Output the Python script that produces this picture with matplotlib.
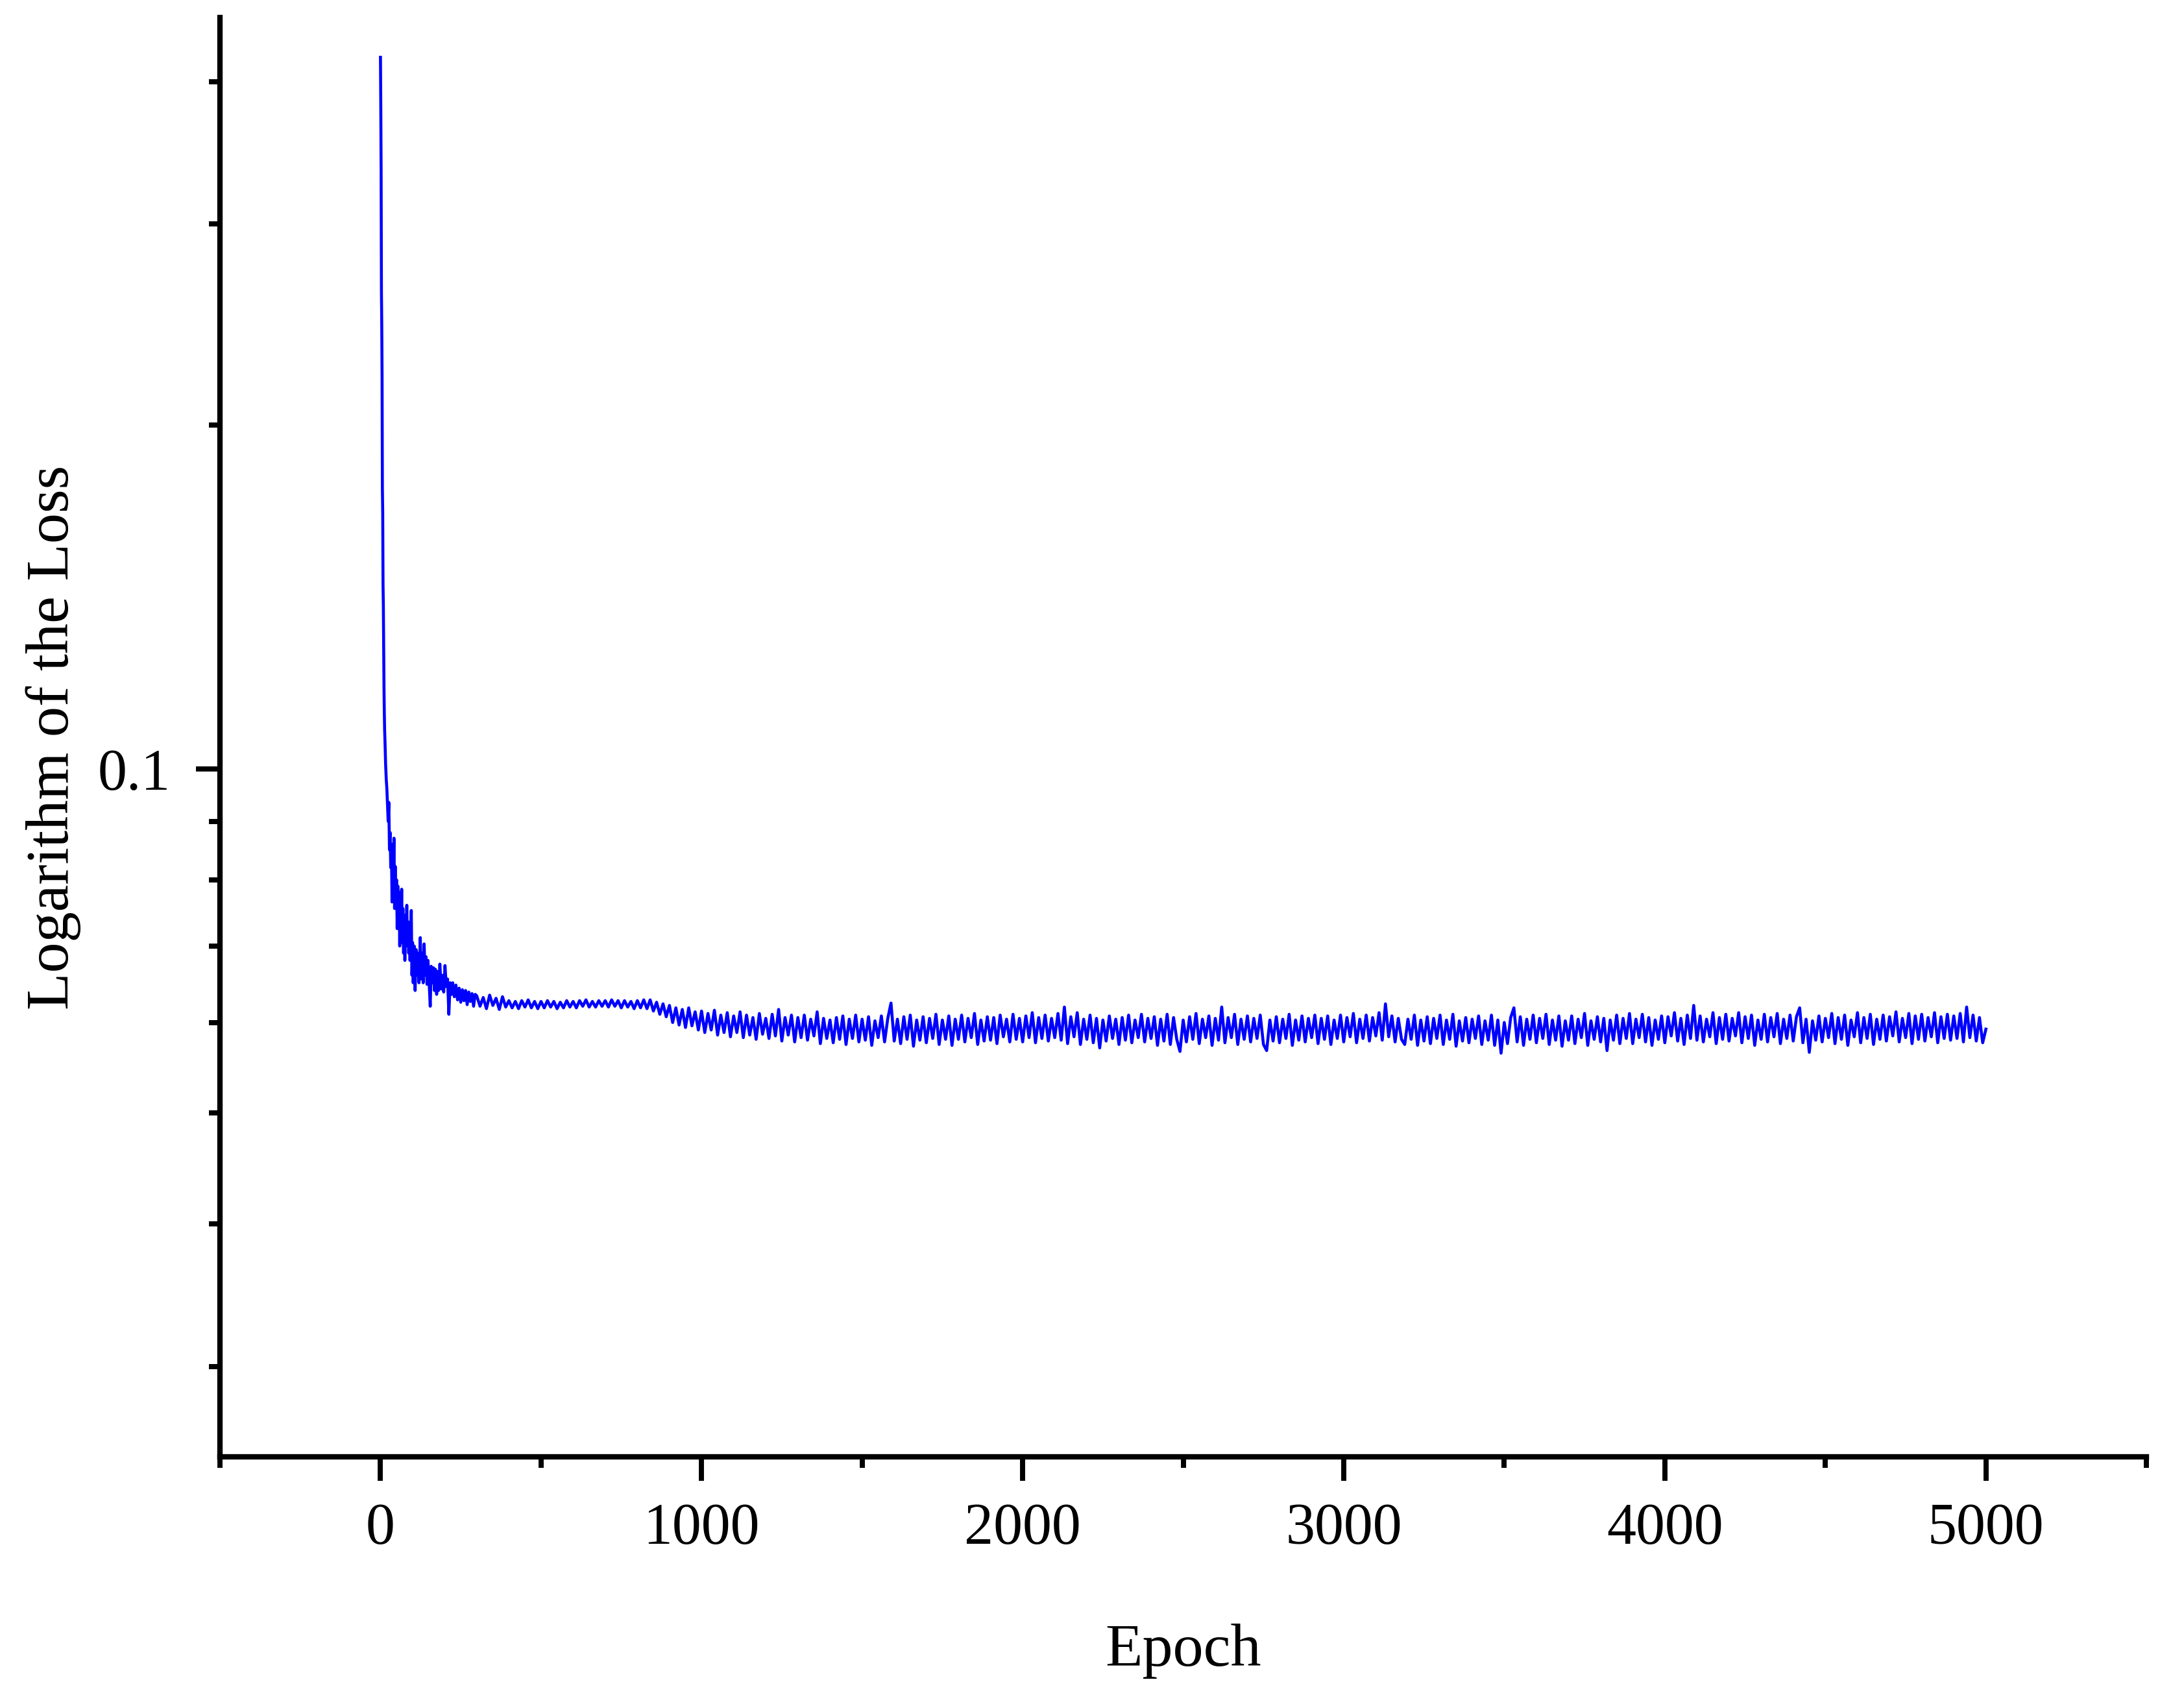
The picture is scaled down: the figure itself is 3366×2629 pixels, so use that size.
import numpy as np
import matplotlib
matplotlib.use("Agg")
import matplotlib.pyplot as plt
from matplotlib import ticker

# ---- data ----
# dense part of the run (fast drop + noisy knee)
head_epochs = [0, 1, 2, 3, 4, 5, 6, 7, 8, 9, 10, 11, 12, 13, 14, 16, 18, 20, 22, 24,
               26, 28, 30, 32, 34, 36, 38, 40, 42, 44, 46, 48, 50, 52, 54, 56, 58, 60,
               62, 64, 66, 68, 70, 72, 74, 76, 78, 80, 82, 84, 86, 88, 90, 92, 94, 96,
               98, 100, 102, 105, 108, 111, 114, 117, 120, 124, 127, 130, 133, 136, 139,
               142, 145, 148, 151, 155, 158, 161, 165, 168, 171, 175, 178, 181, 185, 189,
               193, 197, 201, 205, 209, 213, 217, 221, 225, 230, 235, 240, 245, 250, 255,
               260, 265, 270, 275, 280, 285, 290, 295]
head_loss = [0.420, 0.380, 0.335, 0.262, 0.245, 0.221, 0.176, 0.168, 0.145, 0.139,
             0.128, 0.118, 0.112, 0.108, 0.106, 0.101, 0.098, 0.096, 0.093, 0.090,
             0.0935, 0.0850, 0.0880, 0.0820, 0.0860, 0.0765, 0.0845, 0.0780, 0.0870, 0.0755,
             0.0822, 0.0760, 0.0800, 0.0725, 0.0790, 0.0740, 0.0775, 0.0700, 0.0780, 0.0720,
             0.0785, 0.0705, 0.0755, 0.0690, 0.0745, 0.0680, 0.0725, 0.0700, 0.0760, 0.0705,
             0.0735, 0.0690, 0.0720, 0.0680, 0.0710, 0.0752, 0.0660, 0.0705, 0.0650, 0.0700,
             0.0640, 0.0695, 0.0660, 0.0690, 0.0650, 0.0712, 0.0655, 0.0690, 0.0650, 0.0703,
             0.0660, 0.0685, 0.0648, 0.0680, 0.0655, 0.0620, 0.0672, 0.0650, 0.0670, 0.0640,
             0.0668, 0.0635, 0.0665, 0.0640, 0.0675, 0.0642, 0.0660, 0.0638, 0.0673, 0.0645,
             0.0655, 0.0610, 0.0650, 0.0635, 0.0650, 0.0632, 0.0647, 0.0628, 0.0643, 0.0625,
             0.0641, 0.0627, 0.0640, 0.0622, 0.0638, 0.0626, 0.0636, 0.0620, 0.0635]

# rest of the run, one value every 10 epochs (300 ... 5000)
tail_epochs = np.arange(300, 5001, 10)
tail_loss = [
    0.0633, 0.0620, 0.0631, 0.0617, 0.0634, 0.0621, 0.0630, 0.0616, 0.0632, 0.0619,
    0.0627, 0.0618, 0.0626, 0.0617, 0.0627, 0.0619, 0.0628, 0.0618, 0.0626, 0.0617,
    0.0626, 0.0618, 0.0627, 0.0619, 0.0626, 0.0617, 0.0625, 0.0618, 0.0627, 0.0619,
    0.0626, 0.0618, 0.0627, 0.0620, 0.0628, 0.0619, 0.0626, 0.0619, 0.0627, 0.0620,
    0.0627, 0.0619, 0.0628, 0.0620, 0.0627, 0.0618, 0.0627, 0.0619, 0.0626, 0.0617,
    0.0627, 0.0618, 0.0628, 0.0617, 0.0628, 0.0614, 0.0625, 0.0610, 0.0623, 0.0607,
    0.0621, 0.0600, 0.0618, 0.0597, 0.0616, 0.0594, 0.0618, 0.0596, 0.0613, 0.0591,
    0.0614, 0.0588, 0.0611, 0.0591, 0.0615, 0.0585, 0.0609, 0.0588, 0.0612, 0.0583,
    0.0608, 0.0588, 0.0613, 0.0582, 0.0609, 0.0585, 0.0606, 0.0580, 0.0611, 0.0586,
    0.0605, 0.0581, 0.0610, 0.0584, 0.0616, 0.0578, 0.0606, 0.0585, 0.0609, 0.0577,
    0.0606, 0.0582, 0.0609, 0.0579, 0.0604, 0.0584, 0.0613, 0.0575, 0.0605, 0.0581,
    0.0603, 0.0576, 0.0606, 0.0580, 0.0608, 0.0574, 0.0604, 0.0581, 0.0609, 0.0577,
    0.0604, 0.0579, 0.0607, 0.0573, 0.0602, 0.0582, 0.0608, 0.0577, 0.0605, 0.0624,
    0.0578, 0.0604, 0.0575, 0.0607, 0.0580, 0.0609, 0.0572, 0.0603, 0.0579, 0.0607,
    0.0576, 0.0605, 0.0581, 0.0610, 0.0574, 0.0603, 0.0580, 0.0608, 0.0573, 0.0604,
    0.0580, 0.0609, 0.0577, 0.0605, 0.0582, 0.0611, 0.0574, 0.0603, 0.0578, 0.0607,
    0.0579, 0.0606, 0.0575, 0.0609, 0.0583, 0.0604, 0.0577, 0.0610, 0.0580, 0.0605,
    0.0577, 0.0608, 0.0582, 0.0612, 0.0576, 0.0606, 0.0581, 0.0609, 0.0578, 0.0605,
    0.0582, 0.0611, 0.0579, 0.0619, 0.0575, 0.0607, 0.0583, 0.0612, 0.0574, 0.0604,
    0.0580, 0.0609, 0.0576, 0.0605, 0.0570, 0.0603, 0.0578, 0.0608, 0.0581, 0.0604,
    0.0574, 0.0606, 0.0579, 0.0609, 0.0576, 0.0603, 0.0582, 0.0610, 0.0577, 0.0605,
    0.0581, 0.0607, 0.0573, 0.0604, 0.0578, 0.0610, 0.0574, 0.0606, 0.0580, 0.0566,
    0.0603, 0.0577, 0.0607, 0.0580, 0.0611, 0.0575, 0.0604, 0.0582, 0.0608, 0.0573,
    0.0605, 0.0579, 0.0619, 0.0576, 0.0606, 0.0582, 0.0610, 0.0574, 0.0604, 0.0580,
    0.0608, 0.0577, 0.0605, 0.0581, 0.0609, 0.0574, 0.0567, 0.0603, 0.0578, 0.0607,
    0.0576, 0.0604, 0.0581, 0.0610, 0.0573, 0.0603, 0.0579, 0.0608, 0.0577, 0.0605,
    0.0582, 0.0609, 0.0575, 0.0605, 0.0580, 0.0608, 0.0574, 0.0603, 0.0581, 0.0609,
    0.0577, 0.0606, 0.0583, 0.0611, 0.0576, 0.0604, 0.0581, 0.0609, 0.0578, 0.0606,
    0.0584, 0.0612, 0.0579, 0.0623, 0.0583, 0.0608, 0.0577, 0.0605, 0.0580, 0.0574,
    0.0604, 0.0580, 0.0609, 0.0573, 0.0603, 0.0578, 0.0607, 0.0575, 0.0605, 0.0581,
    0.0609, 0.0574, 0.0603, 0.0580, 0.0610, 0.0572, 0.0602, 0.0578, 0.0606, 0.0576,
    0.0604, 0.0581, 0.0608, 0.0574, 0.0602, 0.0579, 0.0609, 0.0573, 0.0603, 0.0564,
    0.0600, 0.0575, 0.0606, 0.0618, 0.0577, 0.0607, 0.0573, 0.0604, 0.0580, 0.0609,
    0.0576, 0.0605, 0.0581, 0.0610, 0.0574, 0.0603, 0.0579, 0.0608, 0.0572, 0.0602,
    0.0579, 0.0608, 0.0575, 0.0604, 0.0582, 0.0611, 0.0573, 0.0602, 0.0580, 0.0607,
    0.0577, 0.0605, 0.0567, 0.0603, 0.0579, 0.0609, 0.0575, 0.0605, 0.0581, 0.0611,
    0.0575, 0.0604, 0.0582, 0.0610, 0.0577, 0.0606, 0.0573, 0.0603, 0.0580, 0.0608,
    0.0576, 0.0607, 0.0584, 0.0612, 0.0578, 0.0605, 0.0574, 0.0609, 0.0581, 0.0621,
    0.0579, 0.0608, 0.0577, 0.0604, 0.0583, 0.0612, 0.0575, 0.0606, 0.0580, 0.0610,
    0.0578, 0.0605, 0.0584, 0.0612, 0.0576, 0.0607, 0.0581, 0.0609, 0.0573, 0.0603,
    0.0580, 0.0610, 0.0577, 0.0606, 0.0583, 0.0611, 0.0575, 0.0604, 0.0581, 0.0609,
    0.0578, 0.0607, 0.0618, 0.0576, 0.0604, 0.0565, 0.0602, 0.0579, 0.0608, 0.0577,
    0.0605, 0.0582, 0.0611, 0.0575, 0.0606, 0.0580, 0.0609, 0.0573, 0.0603, 0.0583,
    0.0612, 0.0576, 0.0606, 0.0581, 0.0610, 0.0574, 0.0604, 0.0580, 0.0609, 0.0578,
    0.0607, 0.0584, 0.0613, 0.0577, 0.0605, 0.0582, 0.0611, 0.0575, 0.0608, 0.0580,
    0.0610, 0.0578, 0.0606, 0.0583, 0.0612, 0.0576, 0.0607, 0.0581, 0.0610, 0.0579,
    0.0608, 0.0581, 0.0611, 0.0577, 0.0619, 0.0582, 0.0609, 0.0578, 0.0606, 0.0576,
    0.0592,
]

x_ticks = [0, 1000, 2000, 3000, 4000, 5000]

epochs = np.concatenate([head_epochs, tail_epochs])
loss = np.concatenate([head_loss, tail_loss])

# ---- style ----
plt.rcParams["font.family"] = ["Liberation Serif", "DejaVu Serif"]
plt.rcParams["font.size"] = 21.6

fig = plt.figure(figsize=(3366 / 300, 2629 / 300), dpi=300)
ax = fig.add_axes([0.1007, 0.1461, 0.8821, 0.8436])

ax.plot(epochs, loss, color="#0000ff", lw=1.1)

ax.set_yscale("log")
ax.set_xlim(-500, 5500)
ax.set_ylim(0.025, 0.455)

ax.set_xticks(x_ticks)
ax.xaxis.set_minor_locator(ticker.MultipleLocator(500))
ax.yaxis.set_major_locator(ticker.LogLocator(base=10))
ax.yaxis.set_minor_locator(ticker.LogLocator(base=10, subs=np.arange(2, 10)))
ax.yaxis.set_major_formatter(ticker.FuncFormatter(lambda v, p: f"{v:g}"))
ax.yaxis.set_minor_formatter(ticker.NullFormatter())

for side in ["top", "right"]:
    ax.spines[side].set_visible(False)
for side in ["left", "bottom"]:
    ax.spines[side].set_linewidth(2.0)

ax.tick_params(which="major", direction="out", length=8.9, width=1.9)
ax.tick_params(which="minor", direction="out", length=4.1, width=1.9)
ax.tick_params(axis="x", which="major", pad=8)
ax.tick_params(axis="y", which="major", pad=9.5)

ax.set_xlabel("Epoch", labelpad=25, fontsize=22.6)
ax.set_ylabel("Logarithm of the Loss", labelpad=6, fontsize=22.6)

fig.savefig("out.png", dpi=300)
